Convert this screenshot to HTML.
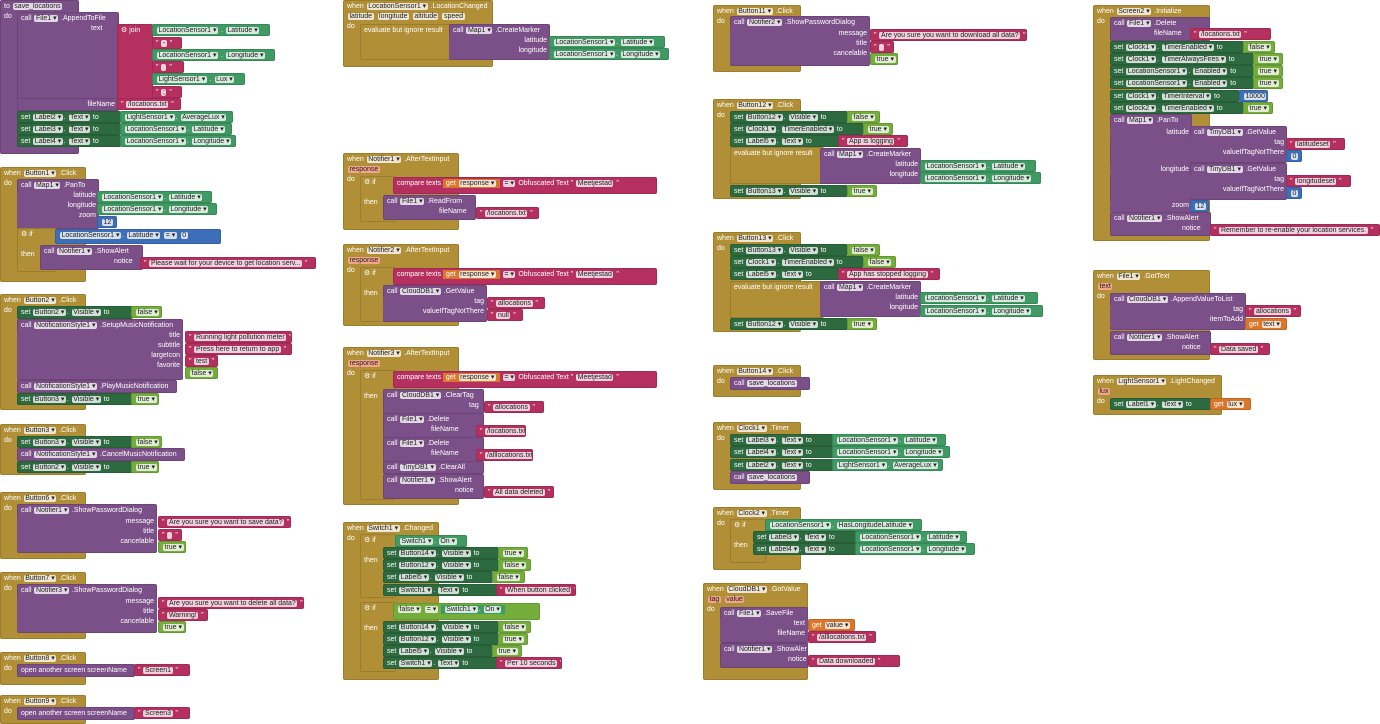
<!DOCTYPE html><html><head><meta charset="utf-8"><style>
body{margin:0;width:1380px;height:724px;background:#fff;position:relative;overflow:hidden}
.b{position:absolute;box-sizing:border-box;font:7px "Liberation Sans",sans-serif;color:#fff;white-space:nowrap;padding:1px 3px;line-height:10px;border-radius:2px;border:1px solid rgba(0,0,0,.12);overflow:hidden}
.b i{font-style:normal;background:rgba(255,255,255,.78);color:#222;border-radius:2px;padding:0 1.5px;margin:0 1px}
.e{background:#b08f36}.p{background:#7b4f87}.s{background:#2d6a3f}.g{background:#3f9a64}.t{background:#b5305f}
.l{background:#74ad3b}.m{background:#3c6fb8}.o{background:#d9772c}.c{background:#b08f36}
.r{text-align:right}
</style></head><body>
<!-- column 1 -->
<div class="b p" style="left:0;top:0;width:79px;height:154px">to <i>save_locations</i><br>do</div>
<div class="b p" style="left:17px;top:12px;width:102px;height:99px">call <i>File1 ▾</i> .AppendToFile<br><span style="margin-left:70px">text</span></div>
<div class="b p r" style="left:17px;top:98px;width:102px;height:13px">fileName</div>
<div class="b t" style="left:117px;top:24px;width:36px;height:86px">⚙ join</div>
<div class="b g" style="left:152px;top:24px;width:118px;height:12px"><i>LocationSensor1 ▾</i> . <i>Latitude ▾</i></div>
<div class="b t" style="left:152px;top:37px;width:30px;height:12px">" <i>-</i> "</div>
<div class="b g" style="left:152px;top:49px;width:123px;height:12px"><i>LocationSensor1 ▾</i> . <i>Longitude ▾</i></div>
<div class="b t" style="left:152px;top:61px;width:32px;height:12px">" <i>&nbsp;</i> "</div>
<div class="b g" style="left:152px;top:73px;width:93px;height:12px"><i>LightSensor1 ▾</i> . <i>Lux ▾</i></div>
<div class="b t" style="left:152px;top:86px;width:30px;height:12px">" <i>;</i> "</div>
<div class="b t" style="left:117px;top:98px;width:64px;height:12px">" <i>/locations.txt</i> "</div>
<div class="b s" style="left:17px;top:111px;width:104px;height:12px">set <i>Label2 ▾</i>. <i>Text ▾</i> to</div>
<div class="b g" style="left:120px;top:111px;width:113px;height:12px"><i>LightSensor1 ▾</i>. <i>AverageLux ▾</i></div>
<div class="b s" style="left:17px;top:123px;width:104px;height:12px">set <i>Label3 ▾</i>. <i>Text ▾</i> to</div>
<div class="b g" style="left:120px;top:123px;width:112px;height:12px"><i>LocationSensor1 ▾</i>. <i>Latitude ▾</i></div>
<div class="b s" style="left:17px;top:135px;width:104px;height:12px">set <i>Label4 ▾</i>. <i>Text ▾</i> to</div>
<div class="b g" style="left:120px;top:135px;width:116px;height:12px"><i>LocationSensor1 ▾</i>. <i>Longitude ▾</i></div>

<div class="b e" style="left:0;top:167px;width:86px;height:115px">when <i>Button1 ▾</i> .Click<br>do</div>
<div class="b p" style="left:17px;top:179px;width:82px;height:50px">call <i>Map1 ▾</i> .PanTo</div>
<div class="b p r" style="left:17px;top:190px;width:82px;height:38px;border:0">latitude<br>longitude<br>zoom</div>
<div class="b g" style="left:97px;top:191px;width:115px;height:12px"><i>LocationSensor1 ▾</i>. <i>Latitude ▾</i></div>
<div class="b g" style="left:97px;top:203px;width:120px;height:12px"><i>LocationSensor1 ▾</i>. <i>Longitude ▾</i></div>
<div class="b m" style="left:97px;top:216px;width:20px;height:12px"><i>12</i></div>
<div class="b c" style="left:17px;top:228px;width:40px;height:44px">⚙ if<br><br>then</div>
<div class="b m" style="left:55px;top:229px;width:166px;height:15px"><i>LocationSensor1 ▾</i>. <i>Latitude ▾</i> <i>= ▾</i> <i>0</i></div>
<div class="b p" style="left:40px;top:245px;width:103px;height:25px">call <i>Notifier1 ▾</i> .ShowAlert<br><span style="margin-left:70px">notice</span></div>
<div class="b t" style="left:140px;top:257px;width:176px;height:12px">" <i>Please wait for your device to get location serv...</i> "</div>

<div class="b e" style="left:0;top:294px;width:86px;height:116px">when <i>Button2 ▾</i> .Click<br>do</div>
<div class="b s" style="left:17px;top:306px;width:116px;height:13px">set <i>Button2 ▾</i>. <i>Visible ▾</i> to</div>
<div class="b l" style="left:131px;top:306px;width:31px;height:12px"><i>false ▾</i></div>
<div class="b p" style="left:17px;top:319px;width:166px;height:61px">call <i>NotificationStyle1 ▾</i> .SetupMusicNotification</div>
<div class="b p r" style="left:17px;top:330px;width:166px;height:48px;border:0">title<br>subtitle<br>largeIcon<br>favorite</div>
<div class="b t" style="left:185px;top:331px;width:107px;height:12px">" <i>Running light pollution meter</i> "</div>
<div class="b t" style="left:185px;top:343px;width:107px;height:12px">" <i>Press here to return to app</i> "</div>
<div class="b t" style="left:185px;top:355px;width:33px;height:12px">" <i>test</i> "</div>
<div class="b l" style="left:185px;top:367px;width:33px;height:12px"><i>false ▾</i></div>
<div class="b p" style="left:17px;top:380px;width:160px;height:13px">call <i>NotificationStyle1 ▾</i> .PlayMusicNotification</div>
<div class="b s" style="left:17px;top:393px;width:116px;height:12px">set <i>Button3 ▾</i>. <i>Visible ▾</i> to</div>
<div class="b l" style="left:131px;top:393px;width:28px;height:12px"><i>true ▾</i></div>

<div class="b e" style="left:0;top:424px;width:86px;height:51px">when <i>Button3 ▾</i> .Click<br>do</div>
<div class="b s" style="left:17px;top:436px;width:116px;height:12px">set <i>Button3 ▾</i>. <i>Visible ▾</i> to</div>
<div class="b l" style="left:131px;top:436px;width:31px;height:12px"><i>false ▾</i></div>
<div class="b p" style="left:17px;top:448px;width:168px;height:13px">call <i>NotificationStyle1 ▾</i> .CancelMusicNotification</div>
<div class="b s" style="left:17px;top:461px;width:116px;height:12px">set <i>Button2 ▾</i>. <i>Visible ▾</i> to</div>
<div class="b l" style="left:131px;top:461px;width:28px;height:12px"><i>true ▾</i></div>

<div class="b e" style="left:0;top:492px;width:86px;height:67px">when <i>Button6 ▾</i> .Click<br>do</div>
<div class="b p" style="left:17px;top:504px;width:140px;height:49px">call <i>Notifier1 ▾</i> .ShowPasswordDialog</div>
<div class="b p r" style="left:17px;top:516px;width:140px;height:36px;border:0">message<br>title<br>cancelable</div>
<div class="b t" style="left:158px;top:516px;width:133px;height:12px">" <i>Are you sure you want to save data?</i> "</div>
<div class="b t" style="left:158px;top:529px;width:24px;height:12px">" <i>&nbsp;</i> "</div>
<div class="b l" style="left:158px;top:541px;width:28px;height:12px"><i>true ▾</i></div>

<div class="b e" style="left:0;top:572px;width:86px;height:67px">when <i>Button7 ▾</i> .Click<br>do</div>
<div class="b p" style="left:17px;top:584px;width:140px;height:49px">call <i>Notifier3 ▾</i> .ShowPasswordDialog</div>
<div class="b p r" style="left:17px;top:596px;width:140px;height:36px;border:0">message<br>title<br>cancelable</div>
<div class="b t" style="left:158px;top:597px;width:146px;height:12px">" <i>Are you sure you want to delete all data?</i> "</div>
<div class="b t" style="left:158px;top:609px;width:50px;height:12px">" <i>Warning!</i> "</div>
<div class="b l" style="left:158px;top:621px;width:28px;height:12px"><i>true ▾</i></div>

<div class="b e" style="left:0;top:652px;width:86px;height:33px">when <i>Button8 ▾</i> .Click<br>do</div>
<div class="b p" style="left:17px;top:664px;width:118px;height:13px">open another screen screenName</div>
<div class="b t" style="left:134px;top:664px;width:56px;height:12px">" <i>Screen1</i> "</div>
<div class="b e" style="left:0;top:695px;width:86px;height:29px">when <i>Button9 ▾</i> .Click<br>do</div>
<div class="b p" style="left:17px;top:707px;width:118px;height:13px">open another screen screenName</div>
<div class="b t" style="left:134px;top:707px;width:56px;height:12px">" <i>Screen3</i> "</div>

<!-- column 2 -->
<div class="b e" style="left:343px;top:0;width:150px;height:67px">when <i>LocationSensor1 ▾</i> .LocationChanged<br><i>latitude</i> <i>longitude</i> <i>altitude</i> <i>speed</i><br>do</div>
<div class="b c" style="left:360px;top:24px;width:92px;height:36px">evaluate but ignore result</div>
<div class="b p" style="left:449px;top:24px;width:101px;height:36px">call <i>Map1 ▾</i> .CreateMarker</div>
<div class="b p r" style="left:449px;top:35px;width:101px;height:24px;border:0">latitude<br>longitude</div>
<div class="b g" style="left:549px;top:36px;width:116px;height:12px"><i>LocationSensor1 ▾</i>. <i>Latitude ▾</i></div>
<div class="b g" style="left:549px;top:48px;width:120px;height:12px"><i>LocationSensor1 ▾</i>. <i>Longitude ▾</i></div>

<div class="b e" style="left:343px;top:153px;width:116px;height:77px">when <i>Notifier1 ▾</i> .AfterTextInput<br><i style="background:#f2a58a">response</i><br>do</div>
<div class="b c" style="left:360px;top:176px;width:36px;height:46px">⚙ if<br><br>then</div>
<div class="b t" style="left:393px;top:177px;width:264px;height:17px">compare texts <span style="background:#d9772c;padding:1px 3px">get <i>response ▾</i></span> <i>= ▾</i> Obfuscated Text " <i>Meetjestad</i> "</div>
<div class="b p" style="left:383px;top:195px;width:93px;height:25px">call <i>File1 ▾</i> .ReadFrom<br><span style="margin-left:52px">fileName</span></div>
<div class="b t" style="left:476px;top:207px;width:63px;height:12px">" <i>/locations.txt</i> "</div>

<div class="b e" style="left:343px;top:244px;width:116px;height:82px">when <i>Notifier2 ▾</i> .AfterTextInput<br><i style="background:#f2a58a">response</i><br>do</div>
<div class="b c" style="left:360px;top:267px;width:36px;height:55px">⚙ if<br><br>then</div>
<div class="b t" style="left:393px;top:268px;width:264px;height:17px">compare texts <span style="background:#d9772c;padding:1px 3px">get <i>response ▾</i></span> <i>= ▾</i> Obfuscated Text " <i>Meetjestad</i> "</div>
<div class="b p" style="left:383px;top:285px;width:104px;height:37px">call <i>CloudDB1 ▾</i> .GetValue</div>
<div class="b p r" style="left:383px;top:296px;width:104px;height:24px;border:0">tag<br>valueIfTagNotThere</div>
<div class="b t" style="left:487px;top:297px;width:58px;height:12px">" <i>allocations</i> "</div>
<div class="b t" style="left:487px;top:309px;width:36px;height:12px">" <i>null</i> "</div>

<div class="b e" style="left:343px;top:347px;width:116px;height:158px">when <i>Notifier3 ▾</i> .AfterTextInput<br><i style="background:#f2a58a">response</i><br>do</div>
<div class="b c" style="left:360px;top:370px;width:36px;height:130px">⚙ if<br><br>then</div>
<div class="b t" style="left:393px;top:371px;width:264px;height:17px">compare texts <span style="background:#d9772c;padding:1px 3px">get <i>response ▾</i></span> <i>= ▾</i> Obfuscated Text " <i>Meetjestad</i> "</div>
<div class="b p" style="left:383px;top:389px;width:101px;height:25px">call <i>CloudDB1 ▾</i> .ClearTag<br><span style="margin-left:82px">tag</span></div>
<div class="b t" style="left:484px;top:401px;width:60px;height:12px">" <i>allocations</i> "</div>
<div class="b p" style="left:383px;top:413px;width:101px;height:25px">call <i>File1 ▾</i> .Delete<br><span style="margin-left:44px">fileName</span></div>
<div class="b t" style="left:476px;top:425px;width:50px;height:12px">" <i>/locations.txt</i> "</div>
<div class="b p" style="left:383px;top:437px;width:101px;height:25px">call <i>File1 ▾</i> .Delete<br><span style="margin-left:44px">fileName</span></div>
<div class="b t" style="left:476px;top:449px;width:57px;height:12px">" <i>/alllocations.txt</i> "</div>
<div class="b p" style="left:383px;top:461px;width:101px;height:13px">call <i>TinyDB1 ▾</i> .ClearAll</div>
<div class="b p" style="left:383px;top:474px;width:101px;height:25px">call <i>Notifier1 ▾</i> .ShowAlert<br><span style="margin-left:68px">notice</span></div>
<div class="b t" style="left:484px;top:486px;width:70px;height:12px">" <i>All data deleted</i> "</div>

<div class="b e" style="left:343px;top:522px;width:96px;height:158px">when <i>Switch1 ▾</i> .Changed<br>do</div>
<div class="b c" style="left:360px;top:534px;width:36px;height:64px">⚙ if<br><br>then</div>
<div class="b g" style="left:395px;top:535px;width:72px;height:12px"><i>Switch1 ▾</i>. <i>On ▾</i></div>
<div class="b s" style="left:383px;top:547px;width:116px;height:12px">set <i>Button14 ▾</i>. <i>Visible ▾</i> to</div>
<div class="b l" style="left:498px;top:547px;width:30px;height:12px"><i>true ▾</i></div>
<div class="b s" style="left:383px;top:559px;width:116px;height:12px">set <i>Button12 ▾</i>. <i>Visible ▾</i> to</div>
<div class="b l" style="left:498px;top:559px;width:33px;height:12px"><i>false ▾</i></div>
<div class="b s" style="left:383px;top:571px;width:110px;height:12px">set <i>Label5 ▾</i>. <i>Visible ▾</i> to</div>
<div class="b l" style="left:492px;top:571px;width:33px;height:12px"><i>false ▾</i></div>
<div class="b s" style="left:383px;top:584px;width:116px;height:12px">set <i>Switch1 ▾</i>. <i>Text ▾</i> to</div>
<div class="b t" style="left:496px;top:584px;width:80px;height:12px">" <i>When button clicked</i> "</div>
<div class="b c" style="left:360px;top:602px;width:36px;height:70px">⚙ if<br><br>then</div>
<div class="b l" style="left:393px;top:603px;width:147px;height:17px"><i>false ▾</i> <i>= ▾</i> <span style="background:#3f9a64;padding:1px 3px"><i>Switch1 ▾</i>. <i>On ▾</i></span></div>
<div class="b s" style="left:383px;top:621px;width:116px;height:12px">set <i>Button14 ▾</i>. <i>Visible ▾</i> to</div>
<div class="b l" style="left:498px;top:621px;width:33px;height:12px"><i>false ▾</i></div>
<div class="b s" style="left:383px;top:633px;width:116px;height:12px">set <i>Button12 ▾</i>. <i>Visible ▾</i> to</div>
<div class="b l" style="left:498px;top:633px;width:30px;height:12px"><i>true ▾</i></div>
<div class="b s" style="left:383px;top:645px;width:110px;height:12px">set <i>Label5 ▾</i>. <i>Visible ▾</i> to</div>
<div class="b l" style="left:492px;top:645px;width:30px;height:12px"><i>true ▾</i></div>
<div class="b s" style="left:383px;top:657px;width:116px;height:12px">set <i>Switch1 ▾</i>. <i>Text ▾</i> to</div>
<div class="b t" style="left:496px;top:657px;width:66px;height:12px">" <i>Per 10 seconds</i> "</div>

<!-- column 3 -->
<div class="b e" style="left:713px;top:5px;width:88px;height:67px">when <i>Button11 ▾</i> .Click<br>do</div>
<div class="b p" style="left:730px;top:16px;width:140px;height:50px">call <i>Notifier2 ▾</i> .ShowPasswordDialog</div>
<div class="b p r" style="left:730px;top:28px;width:140px;height:36px;border:0">message<br>title<br>cancelable</div>
<div class="b t" style="left:870px;top:29px;width:157px;height:12px">" <i>Are you sure you want to download all data?</i> "</div>
<div class="b t" style="left:870px;top:41px;width:24px;height:12px">" <i>&nbsp;</i> "</div>
<div class="b l" style="left:870px;top:53px;width:28px;height:12px"><i>true ▾</i></div>

<div class="b e" style="left:713px;top:99px;width:88px;height:100px">when <i>Button12 ▾</i> .Click<br>do</div>
<div class="b s" style="left:730px;top:111px;width:118px;height:12px">set <i>Button12 ▾</i>. <i>Visible ▾</i> to</div>
<div class="b l" style="left:847px;top:111px;width:33px;height:12px"><i>false ▾</i></div>
<div class="b s" style="left:730px;top:123px;width:134px;height:12px">set <i>Clock1 ▾</i>. <i>TimerEnabled ▾</i> to</div>
<div class="b l" style="left:863px;top:123px;width:30px;height:12px"><i>true ▾</i></div>
<div class="b s" style="left:730px;top:135px;width:110px;height:12px">set <i>Label5 ▾</i>. <i>Text ▾</i> to</div>
<div class="b t" style="left:838px;top:135px;width:70px;height:12px">" <i>App is logging</i> "</div>
<div class="b c" style="left:730px;top:147px;width:94px;height:37px">evaluate but ignore result</div>
<div class="b p" style="left:820px;top:148px;width:101px;height:36px">call <i>Map1 ▾</i> .CreateMarker</div>
<div class="b p r" style="left:820px;top:159px;width:101px;height:24px;border:0">latitude<br>longitude</div>
<div class="b g" style="left:920px;top:160px;width:116px;height:12px"><i>LocationSensor1 ▾</i>. <i>Latitude ▾</i></div>
<div class="b g" style="left:920px;top:172px;width:121px;height:12px"><i>LocationSensor1 ▾</i>. <i>Longitude ▾</i></div>
<div class="b s" style="left:730px;top:185px;width:118px;height:12px">set <i>Button13 ▾</i>. <i>Visible ▾</i> to</div>
<div class="b l" style="left:847px;top:185px;width:30px;height:12px"><i>true ▾</i></div>

<div class="b e" style="left:713px;top:232px;width:88px;height:100px">when <i>Button13 ▾</i> .Click<br>do</div>
<div class="b s" style="left:730px;top:244px;width:118px;height:12px">set <i>Button13 ▾</i>. <i>Visible ▾</i> to</div>
<div class="b l" style="left:847px;top:244px;width:33px;height:12px"><i>false ▾</i></div>
<div class="b s" style="left:730px;top:256px;width:134px;height:12px">set <i>Clock1 ▾</i>. <i>TimerEnabled ▾</i> to</div>
<div class="b l" style="left:863px;top:256px;width:33px;height:12px"><i>false ▾</i></div>
<div class="b s" style="left:730px;top:268px;width:110px;height:12px">set <i>Label5 ▾</i>. <i>Text ▾</i> to</div>
<div class="b t" style="left:838px;top:268px;width:102px;height:12px">" <i>App has stopped logging</i> "</div>
<div class="b c" style="left:730px;top:281px;width:94px;height:37px">evaluate but ignore result</div>
<div class="b p" style="left:820px;top:281px;width:101px;height:36px">call <i>Map1 ▾</i> .CreateMarker</div>
<div class="b p r" style="left:820px;top:292px;width:101px;height:24px;border:0">latitude<br>longitude</div>
<div class="b g" style="left:920px;top:292px;width:118px;height:12px"><i>LocationSensor1 ▾</i>. <i>Latitude ▾</i></div>
<div class="b g" style="left:920px;top:305px;width:123px;height:12px"><i>LocationSensor1 ▾</i>. <i>Longitude ▾</i></div>
<div class="b s" style="left:730px;top:318px;width:118px;height:12px">set <i>Button12 ▾</i>. <i>Visible ▾</i> to</div>
<div class="b l" style="left:847px;top:318px;width:30px;height:12px"><i>true ▾</i></div>

<div class="b e" style="left:713px;top:365px;width:88px;height:32px">when <i>Button14 ▾</i> .Click<br>do</div>
<div class="b p" style="left:730px;top:377px;width:80px;height:13px">call <i>save_locations</i></div>

<div class="b e" style="left:713px;top:422px;width:88px;height:68px">when <i>Clock1 ▾</i> .Timer<br>do</div>
<div class="b s" style="left:730px;top:434px;width:104px;height:12px">set <i>Label3 ▾</i>. <i>Text ▾</i> to</div>
<div class="b g" style="left:832px;top:434px;width:114px;height:12px"><i>LocationSensor1 ▾</i>. <i>Latitude ▾</i></div>
<div class="b s" style="left:730px;top:446px;width:104px;height:12px">set <i>Label4 ▾</i>. <i>Text ▾</i> to</div>
<div class="b g" style="left:832px;top:446px;width:118px;height:12px"><i>LocationSensor1 ▾</i>. <i>Longitude ▾</i></div>
<div class="b s" style="left:730px;top:459px;width:104px;height:12px">set <i>Label2 ▾</i>. <i>Text ▾</i> to</div>
<div class="b g" style="left:832px;top:459px;width:111px;height:12px"><i>LightSensor1 ▾</i>. <i>AverageLux ▾</i></div>
<div class="b p" style="left:730px;top:471px;width:80px;height:13px">call <i>save_locations</i></div>

<div class="b e" style="left:713px;top:507px;width:88px;height:63px">when <i>Clock2 ▾</i> .Timer<br>do</div>
<div class="b c" style="left:730px;top:519px;width:36px;height:44px">⚙ if<br><br>then</div>
<div class="b g" style="left:765px;top:519px;width:157px;height:12px"><i>LocationSensor1 ▾</i>. <i>HasLongitudeLatitude ▾</i></div>
<div class="b s" style="left:753px;top:531px;width:104px;height:12px">set <i>Label3 ▾</i>. <i>Text ▾</i> to</div>
<div class="b g" style="left:855px;top:531px;width:112px;height:12px"><i>LocationSensor1 ▾</i>. <i>Latitude ▾</i></div>
<div class="b s" style="left:753px;top:543px;width:104px;height:12px">set <i>Label4 ▾</i>. <i>Text ▾</i> to</div>
<div class="b g" style="left:855px;top:543px;width:120px;height:12px"><i>LocationSensor1 ▾</i>. <i>Longitude ▾</i></div>

<div class="b e" style="left:703px;top:583px;width:105px;height:97px">when <i>CloudDB1 ▾</i> .GotValue<br><i style="background:#f2a58a">tag</i> <i style="background:#f2a58a">value</i><br>do</div>
<div class="b p" style="left:720px;top:607px;width:88px;height:36px">call <i>File1 ▾</i> .SaveFile</div>
<div class="b p r" style="left:720px;top:618px;width:88px;height:24px;border:0">text<br>fileName</div>
<div class="b o" style="left:808px;top:619px;width:47px;height:12px">get <i>value ▾</i></div>
<div class="b t" style="left:808px;top:631px;width:68px;height:12px">" <i>/alllocations.txt</i> "</div>
<div class="b p" style="left:720px;top:643px;width:88px;height:25px">call <i>Notifier1 ▾</i> .ShowAlert<br><span style="margin-left:64px">notice</span></div>
<div class="b t" style="left:808px;top:655px;width:92px;height:12px">" <i>Data downloaded</i> "</div>

<!-- column 4 -->
<div class="b e" style="left:1093px;top:5px;width:117px;height:236px">when <i>Screen2 ▾</i> .Initialize<br>do</div>
<div class="b p" style="left:1110px;top:17px;width:100px;height:24px">call <i>File1 ▾</i> .Delete<br><span style="margin-left:40px">fileName</span></div>
<div class="b t" style="left:1190px;top:28px;width:81px;height:12px">" <i>/locations.txt</i> "</div>
<div class="b s" style="left:1110px;top:41px;width:134px;height:12px">set <i>Clock1 ▾</i>. <i>TimerEnabled ▾</i> to</div>
<div class="b l" style="left:1243px;top:41px;width:32px;height:12px"><i>false ▾</i></div>
<div class="b s" style="left:1110px;top:53px;width:144px;height:12px">set <i>Clock1 ▾</i>. <i>TimerAlwaysFires ▾</i> to</div>
<div class="b l" style="left:1253px;top:53px;width:30px;height:12px"><i>true ▾</i></div>
<div class="b s" style="left:1110px;top:65px;width:144px;height:12px">set <i>LocationSensor1 ▾</i>. <i>Enabled ▾</i> to</div>
<div class="b l" style="left:1253px;top:65px;width:30px;height:12px"><i>true ▾</i></div>
<div class="b s" style="left:1110px;top:77px;width:144px;height:12px">set <i>LocationSensor1 ▾</i>. <i>Enabled ▾</i> to</div>
<div class="b l" style="left:1253px;top:77px;width:30px;height:12px"><i>true ▾</i></div>
<div class="b s" style="left:1110px;top:90px;width:130px;height:12px">set <i>Clock1 ▾</i>. <i>TimerInterval ▾</i> to</div>
<div class="b m" style="left:1239px;top:90px;width:29px;height:12px"><i>10000</i></div>
<div class="b s" style="left:1110px;top:102px;width:134px;height:12px">set <i>Clock2 ▾</i>. <i>TimerEnabled ▾</i> to</div>
<div class="b l" style="left:1243px;top:102px;width:30px;height:12px"><i>true ▾</i></div>
<div class="b p" style="left:1110px;top:114px;width:82px;height:98px">call <i>Map1 ▾</i> .PanTo</div>
<div class="b p r" style="left:1110px;top:127px;width:82px;height:12px;border:0">latitude</div>
<div class="b p r" style="left:1110px;top:164px;width:82px;height:12px;border:0">longitude</div>
<div class="b p r" style="left:1110px;top:200px;width:82px;height:12px;border:0">zoom</div>
<div class="b p" style="left:1190px;top:126px;width:97px;height:37px">call <i>TinyDB1 ▾</i> .GetValue</div>
<div class="b p r" style="left:1190px;top:137px;width:97px;height:24px;border:0">tag<br>valueIfTagNotThere</div>
<div class="b t" style="left:1286px;top:138px;width:59px;height:12px">" <i>latitudeset</i> "</div>
<div class="b m" style="left:1286px;top:150px;width:16px;height:12px"><i>0</i></div>
<div class="b p" style="left:1190px;top:163px;width:97px;height:37px">call <i>TinyDB1 ▾</i> .GetValue</div>
<div class="b p r" style="left:1190px;top:174px;width:97px;height:24px;border:0">tag<br>valueIfTagNotThere</div>
<div class="b t" style="left:1286px;top:175px;width:65px;height:12px">" <i>longitudeset</i> "</div>
<div class="b m" style="left:1286px;top:187px;width:16px;height:12px"><i>0</i></div>
<div class="b m" style="left:1190px;top:200px;width:19px;height:12px"><i>12</i></div>
<div class="b p" style="left:1110px;top:212px;width:101px;height:24px">call <i>Notifier1 ▾</i> .ShowAlert<br><span style="margin-left:68px">notice</span></div>
<div class="b t" style="left:1210px;top:224px;width:170px;height:12px">" <i>Remember to re-enable your location services.</i> "</div>

<div class="b e" style="left:1093px;top:270px;width:117px;height:90px">when <i>File1 ▾</i> .GotText<br><i style="background:#f2a58a">text</i><br>do</div>
<div class="b p" style="left:1110px;top:293px;width:136px;height:37px">call <i>CloudDB1 ▾</i> .AppendValueToList</div>
<div class="b p r" style="left:1110px;top:304px;width:136px;height:24px;border:0">tag<br>itemToAdd</div>
<div class="b t" style="left:1245px;top:305px;width:56px;height:12px">" <i>allocations</i> "</div>
<div class="b o" style="left:1245px;top:318px;width:42px;height:12px">get <i>text ▾</i></div>
<div class="b p" style="left:1110px;top:331px;width:101px;height:24px">call <i>Notifier1 ▾</i> .ShowAlert<br><span style="margin-left:68px">notice</span></div>
<div class="b t" style="left:1210px;top:343px;width:60px;height:12px">" <i>Data saved</i> "</div>

<div class="b e" style="left:1093px;top:375px;width:129px;height:40px">when <i>LightSensor1 ▾</i> .LightChanged<br><i style="background:#f2a58a">lux</i><br>do</div>
<div class="b s" style="left:1110px;top:398px;width:101px;height:12px">set <i>Label1 ▾</i>. <i>Text ▾</i> to</div>
<div class="b o" style="left:1210px;top:398px;width:41px;height:12px">get <i>lux ▾</i></div>
</body></html>
